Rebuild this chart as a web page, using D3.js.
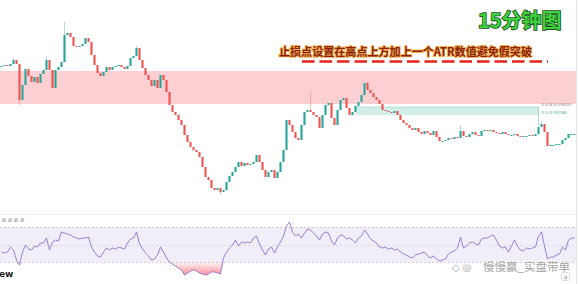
<!DOCTYPE html>
<html>
<head>
<meta charset="utf-8">
<script src="https://cdn.jsdelivr.net/npm/d3@7"></script>
<style>
  body { margin: 0; background: #fff; }
  svg { display: block; }
</style>
</head>
<body>
<div id="wrapper"></div>
<script>
// closes, one per 15 min bar
const firstOpen = 0.6022;
const closes = [
  0.6023, 0.6024, 0.6023, 0.6025, 0.6029, 0.6025, 0.5989, 0.6004, 0.6020, 0.6013,
  0.6007, 0.6012, 0.6006, 0.6015, 0.6019, 0.6029, 0.6019, 0.6001, 0.6019, 0.6022,
  0.6027, 0.6054, 0.6056, 0.6052, 0.6043, 0.6042, 0.6043, 0.6045, 0.6051, 0.6047,
  0.6034, 0.6024, 0.6016, 0.6013, 0.6017, 0.6022, 0.6019, 0.6022, 0.6023, 0.6024,
  0.6022, 0.6020, 0.6023, 0.6031, 0.6033, 0.6041, 0.6029, 0.6021, 0.6014, 0.6009,
  0.6003, 0.6009, 0.6001, 0.6014, 0.6009, 0.5997, 0.5984, 0.5977, 0.5974, 0.5969,
  0.5964, 0.5954, 0.5947, 0.5942, 0.5939, 0.5937, 0.5932, 0.5922, 0.5912, 0.5909,
  0.5901, 0.5899, 0.5901, 0.5897, 0.5899, 0.5907, 0.5913, 0.5917, 0.5922, 0.5927,
  0.5923, 0.5926, 0.5924, 0.5925, 0.5927, 0.5934, 0.5927, 0.5919, 0.5912, 0.5917,
  0.5919, 0.5911, 0.5917, 0.5927, 0.5939, 0.5969, 0.5964, 0.5957, 0.5951, 0.5949,
  0.5964, 0.5977, 0.5979, 0.5977, 0.5974, 0.5972, 0.5961, 0.5974, 0.5984, 0.5986,
  0.5971, 0.5964, 0.5979, 0.5989, 0.5991, 0.5981, 0.5974, 0.5977, 0.5983, 0.5987,
  0.5994, 0.6006, 0.5999, 0.5996, 0.5992, 0.5989, 0.5985, 0.5979, 0.5978, 0.5977,
  0.5976, 0.5978, 0.5974, 0.5969, 0.5966, 0.5964, 0.5961, 0.5959, 0.5961, 0.5957,
  0.5955, 0.5958, 0.5956, 0.5954, 0.5958, 0.5952, 0.5948, 0.5948, 0.5949, 0.5951,
  0.5950, 0.5952, 0.5951, 0.5958, 0.5953, 0.5952, 0.5955, 0.5957, 0.5954, 0.5953,
  0.5958, 0.5959, 0.5958, 0.5959, 0.5957, 0.5956, 0.5955, 0.5957, 0.5955, 0.5954,
  0.5954, 0.5955, 0.5953, 0.5952, 0.5953, 0.5953, 0.5954, 0.5953, 0.5955, 0.5962,
  0.5965, 0.5957, 0.5943, 0.5944, 0.5944, 0.5945, 0.5945, 0.5949, 0.5951, 0.5955,
  0.5955, 0.5955,
];

// bars with a visible wick beyond the body
const wickIndex = [4, 6, 15, 21, 45, 73, 103, 122, 153, 180];
const wickHigh = [0.6031, null, 0.6033, 0.6067, 0.6043, null, 0.5997, 0.6008, 0.5964, 0.5968];
const wickLow = [null, 0.5984, null, null, null, 0.5894, null, null, null, null];

const rsiValues = [
  41.4, 40.3, 41.4, 47.1, 43.7, 32.3, 26.6, 41.4, 49.4, 44.9,
  43.7, 48.3, 47.1, 51.7, 51.7, 57.4, 43.7, 52.9, 55.1, 54.0,
  64.3, 63.1, 62.0, 60.9, 58.6, 57.4, 56.3, 57.4, 57.4, 58.6,
  47.1, 41.4, 36.9, 35.7, 41.4, 46.0, 43.7, 46.0, 44.9, 47.1,
  46.0, 44.9, 51.7, 56.3, 57.4, 64.3, 50.6, 44.9, 40.3, 36.9,
  32.3, 33.4, 38.0, 47.1, 41.4, 34.6, 30.0, 27.7, 25.4, 23.1,
  20.9, 15.1, 17.4, 19.7, 20.9, 19.7, 17.4, 16.3, 15.1, 16.3,
  18.6, 18.6, 17.4, 16.3, 34.6, 41.4, 46.0, 49.4, 55.1, 48.3,
  52.9, 51.7, 52.9, 51.7, 57.4, 59.7, 50.6, 43.7, 38.0, 44.9,
  47.1, 40.3, 47.1, 52.9, 59.7, 71.1, 75.7, 64.3, 59.7, 62.0,
  57.4, 63.1, 67.7, 66.6, 63.1, 59.7, 55.1, 62.0, 64.3, 63.1,
  54.0, 49.4, 57.4, 60.9, 59.7, 56.3, 57.4, 55.1, 51.7, 57.4,
  59.7, 66.6, 62.0, 56.3, 54.0, 51.7, 47.1, 46.0, 47.1, 44.9,
  46.0, 43.7, 44.9, 41.4, 39.1, 38.0, 35.7, 34.6, 38.0, 39.1,
  40.3, 41.4, 36.9, 34.6, 36.9, 33.4, 31.1, 32.3, 33.4, 39.1,
  41.4, 42.6, 46.0, 58.6, 46.0, 48.3, 51.7, 52.9, 50.6, 49.4,
  56.3, 57.4, 57.4, 59.7, 60.9, 55.1, 48.3, 46.0, 47.1, 41.4,
  48.3, 55.1, 48.3, 43.7, 42.6, 46.0, 44.9, 46.0, 47.1, 59.7,
  64.3, 48.3, 33.4, 35.7, 35.7, 38.0, 39.1, 47.1, 43.7, 55.1,
  57.4, 57.4,
];
const rsiLevels = [70, 50, 30];

// supply zone and fib retracement box
const zoneTop = 0.6018;
const zoneBottom = 0.5985;
const fibLevels = [0.5982, 0.59738];
const fibLabels = ["0.618 (0.59820)", "0.5 (0.59738)"];
const fibStart = 118;
const fibEnd = 179;

const titleText = "15分钟图";
const noteText = "止损点设置在高点上方加上一个ATR数值避免假突破";
const watermarkText = "慢慢赢_实盘带单";

const dimensions = {
  width: 578,
  height: 284,
  plotRight: 576,
  priceTop: 0,
  priceBottom: 210,
  rsiTop: 200.75,
  rsiBottom: 288.25,
};

const bars = closes.map((c, i) => {
  const o = i === 0 ? firstOpen : closes[i - 1];
  const k = wickIndex.indexOf(i);
  let h = Math.max(o, c);
  let l = Math.min(o, c);
  if (k >= 0 && wickHigh[k] !== null) h = wickHigh[k];
  if (k >= 0 && wickLow[k] !== null) l = wickLow[k];
  return { i, o, h, l, c };
});

const svg = d3
  .select("#wrapper")
  .append("svg")
  .attr("width", dimensions.width)
  .attr("height", dimensions.height);

const defs = svg.append("defs");
const grad = defs
  .append("linearGradient")
  .attr("id", "osGrad")
  .attr("x1", 0).attr("x2", 0).attr("y1", 0).attr("y2", 1);
grad.append("stop").attr("offset", "0%").attr("stop-color", "#f23645").attr("stop-opacity", 0.05);
grad.append("stop").attr("offset", "100%").attr("stop-color", "#f23645").attr("stop-opacity", 0.55);

const xScale = d3
  .scaleBand()
  .domain(d3.range(closes.length))
  .range([0, dimensions.plotRight])
  .paddingInner(0.3)
  .paddingOuter(0.15);

const yScale = d3
  .scaleLinear()
  .domain([0.5879, 0.6089])
  .range([dimensions.priceBottom, dimensions.priceTop]);

const rsiScale = d3
  .scaleLinear()
  .domain([0, 100])
  .range([dimensions.rsiBottom, dimensions.rsiTop]);

const cx = (i) => xScale(i) + xScale.bandwidth() / 2;

// frame
svg.append("line")
  .attr("x1", dimensions.plotRight + 0.5).attr("x2", dimensions.plotRight + 0.5)
  .attr("y1", 0).attr("y2", dimensions.height)
  .attr("stroke", "#e6e6e6");
svg.append("line")
  .attr("x1", 0).attr("x2", dimensions.plotRight)
  .attr("y1", 214.5).attr("y2", 214.5)
  .attr("stroke", "#f0f0f0");

// supply zone
svg.append("rect")
  .attr("x", 0)
  .attr("y", yScale(zoneTop))
  .attr("width", dimensions.plotRight)
  .attr("height", yScale(zoneBottom) - yScale(zoneTop))
  .attr("fill", "#fccfd3");

// fib box
svg.append("rect")
  .attr("x", cx(fibStart))
  .attr("y", yScale(fibLevels[0]))
  .attr("width", cx(fibEnd) - cx(fibStart))
  .attr("height", yScale(fibLevels[1]) - yScale(fibLevels[0]))
  .attr("fill", "#d3eee8");
svg.append("line")
  .attr("x1", cx(fibStart)).attr("x2", cx(fibEnd))
  .attr("y1", yScale(fibLevels[0])).attr("y2", yScale(fibLevels[0]))
  .attr("stroke", "#a9d9cf").attr("stroke-width", 0.8);
svg.append("line")
  .attr("x1", cx(fibEnd)).attr("x2", cx(fibEnd))
  .attr("y1", yScale(fibLevels[0])).attr("y2", yScale(fibLevels[1]) + 10)
  .attr("stroke", "#8fd0c2").attr("stroke-width", 0.8);

svg.selectAll(".fibLabel")
  .data(fibLevels)
  .enter()
  .append("text")
  .attr("class", "fibLabel")
  .attr("x", cx(fibEnd) + 3)
  .attr("y", (d) => yScale(d) - 1)
  .text((d, i) => fibLabels[i])
  .style("font-family", "Roboto, sans-serif")
  .style("font-size", "4.2px")
  .style("fill", (d, i) => (i === 0 ? "#8a8a8a" : "#4aa898"));

// candles
const candles = svg.append("g")
  .selectAll("g")
  .data(bars)
  .enter()
  .append("g");

candles.append("line")
  .attr("x1", (d) => cx(d.i)).attr("x2", (d) => cx(d.i))
  .attr("y1", (d) => yScale(d.h)).attr("y2", (d) => yScale(d.l))
  .attr("stroke", (d) => (d.c >= d.o ? "#26a69a" : "#ef5350"))
  .attr("stroke-opacity", 0.45)
  .attr("stroke-width", 0.8);

candles.append("rect")
  .attr("x", (d) => xScale(d.i))
  .attr("y", (d) => yScale(Math.max(d.o, d.c)))
  .attr("width", xScale.bandwidth())
  .attr("height", (d) => Math.max(1, Math.abs(yScale(d.o) - yScale(d.c))))
  .attr("fill", (d) => (d.c >= d.o ? "#26a69a" : "#ef5350"));

// RSI pane
svg.append("rect")
  .attr("x", 0)
  .attr("y", rsiScale(70))
  .attr("width", dimensions.plotRight)
  .attr("height", rsiScale(30) - rsiScale(70))
  .attr("fill", "#f1edf9");

svg.selectAll(".rsiLevel")
  .data(rsiLevels)
  .enter()
  .append("line")
  .attr("class", "rsiLevel")
  .attr("x1", 0).attr("x2", dimensions.plotRight)
  .attr("y1", (d) => Math.round(rsiScale(d)) + 0.5)
  .attr("y2", (d) => Math.round(rsiScale(d)) + 0.5)
  .attr("stroke", (d) => (d === 50 ? "#d8d3e4" : "#c9c4d3"))
  .attr("stroke-width", 0.8)
  .style("stroke-dasharray", "2 2");

const oversoldArea = d3.area()
  .x((d, i) => cx(i))
  .y0(rsiScale(30))
  .y1((d) => rsiScale(Math.min(d, 30)));

svg.append("path")
  .datum(rsiValues)
  .attr("d", oversoldArea)
  .attr("fill", "url(#osGrad)");

const rsiLine = d3.line()
  .x((d, i) => cx(i))
  .y((d) => rsiScale(d));

svg.append("path")
  .datum(rsiValues)
  .attr("d", rsiLine)
  .attr("fill", "none")
  .attr("stroke", "#8f73cf")
  .attr("stroke-width", 0.9);

svg.append("text")
  .attr("x", 2).attr("y", 222)
  .text("ø ø ø ø")
  .style("font-family", "DejaVu Sans, sans-serif")
  .style("font-size", "6.5px")
  .style("fill", "#9a9a9a");

svg.append("text")
  .attr("x", -1).attr("y", 277)
  .text("ew")
  .style("font-family", "DejaVu Sans, sans-serif")
  .style("font-size", "9px")
  .style("font-weight", "bold")
  .style("fill", "#222");

// annotations
svg.append("text")
  .attr("x", 478).attr("y", 28)
  .text(titleText)
  .style("font-family", "'Noto Sans CJK SC', sans-serif")
  .style("font-size", "20px")
  .style("font-weight", "bold")
  .style("fill", "#3cd23c")
  .style("stroke", "#1f4a1f")
  .style("stroke-width", "1.6px")
  .style("paint-order", "stroke");

svg.append("text")
  .attr("x", 279).attr("y", 55.5)
  .attr("textLength", 253)
  .attr("lengthAdjust", "spacingAndGlyphs")
  .text(noteText)
  .style("font-family", "'Noto Sans CJK SC', sans-serif")
  .style("font-size", "11.5px")
  .style("font-weight", "bold")
  .style("fill", "#8e1f08")
  .style("stroke", "#f2b45a")
  .style("stroke-width", "1.8px")
  .style("paint-order", "stroke");

svg.append("line")
  .attr("x1", 302).attr("x2", 548)
  .attr("y1", 61.5).attr("y2", 61.5)
  .attr("stroke", "#e3231c")
  .attr("stroke-width", 2.6)
  .style("stroke-dasharray", "12.5 5");

// watermark
svg.append("text")
  .attr("x", 452).attr("y", 271)
  .text("◇ ◎")
  .style("font-family", "DejaVu Sans, sans-serif")
  .style("font-size", "10px")
  .style("fill", "#a8a8a8");
svg.append("text")
  .attr("x", 483).attr("y", 271)
  .text(watermarkText)
  .style("font-family", "'Noto Sans CJK SC', sans-serif")
  .style("font-size", "11.5px")
  .style("fill", "#a3a3a3")
  .style("stroke", "#fff")
  .style("stroke-width", "1.5px")
  .style("paint-order", "stroke");
svg.append("rect")
  .attr("x", 561.5).attr("y", 272.5)
  .attr("width", 8).attr("height", 8)
  .attr("rx", 1.5)
  .attr("fill", "#fff")
  .attr("stroke", "#ddd");
svg.append("text")
  .attr("x", 565.5).attr("y", 279)
  .attr("text-anchor", "middle")
  .text("ↄ")
  .style("font-family", "DejaVu Sans, sans-serif")
  .style("font-size", "6px")
  .style("fill", "#555");
</script>
</body>
</html>
